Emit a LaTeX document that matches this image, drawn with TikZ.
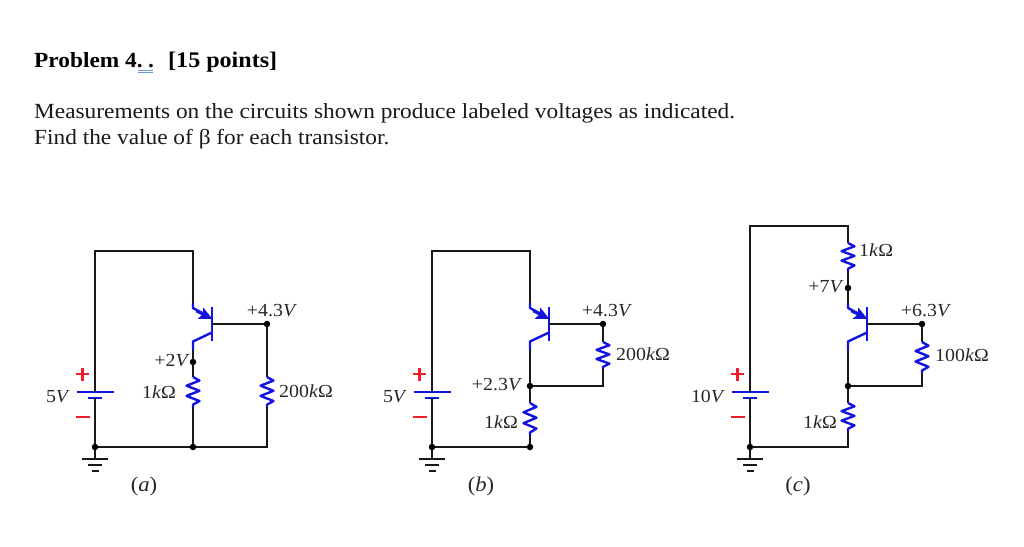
\documentclass[tikz,border=0pt]{standalone}
\usepackage{fontspec}
\setmainfont[FakeStretch=1.08]{Liberation Serif}
\usetikzlibrary{calc,arrows.meta}
\definecolor{wireblue}{RGB}{20,20,225}
\definecolor{linkblue}{RGB}{110,150,205}
\definecolor{markred}{RGB}{240,30,40}
\tikzset{
  wire/.style={draw=black!90,line width=2.4pt,line join=miter},
  part/.style={draw=wireblue,line width=2.4pt,line join=round},
  junction/.style={circle,fill=black,inner sep=0pt,minimum size=6.5pt},
  lab/.style={font=\fontsize{18.4}{20}\selectfont,inner sep=0pt,text=black!85},
  para/.style={font=\fontsize{21.6}{24}\selectfont,anchor=base west,inner sep=0pt,text=black!90},
  heading/.style={font=\fontsize{21.6}{24}\selectfont\bfseries,anchor=base west,inner sep=0pt,text=black},
  sign/.style={draw=markred,line width=2.4pt},
}
% resistor between two named coordinates
\newcommand{\resist}[2]{%
  \draw[part] (#1) -- ($(#1)!.12!(#2)+(6.5,0)$) -- ($(#1)!.29!(#2)+(-6.5,0)$)
    -- ($(#1)!.46!(#2)+(6.5,0)$) -- ($(#1)!.63!(#2)+(-6.5,0)$)
    -- ($(#1)!.80!(#2)+(6.5,0)$) -- ($(#1)!.92!(#2)$) -- (#2);}
% pnp transistor on the rail at x=#2, coordinates named #1e,#1b,#1c
\newcommand{\pnp}[2]{%
  \coordinate (#1e) at (#2,303);
  \coordinate (#1c) at (#2,350);
  \coordinate (#1b) at (#2+19,324);
  \draw[part] (#1e) -- (#2,308) -- ++(10,5.4);
  \draw[part,-{Stealth[length=13pt,width=12pt,inset=2pt]}] (#2+3,311) -- (#2+19.5,319);
  \draw[part] (#2+19,307) -- (#2+19,341);
  \draw[part] (#2+19,332.5) -- (#2,341.5) -- (#1c);
  \draw[part] (#1b) -- ++(5,0);}
% battery with ground; wire at x=#2; coordinates #1p (long plate) #1n (short plate) #1g (ground)
\newcommand{\batgnd}[2]{%
  \coordinate (#1p) at (#2,392);
  \coordinate (#1n) at (#2,398);
  \draw[part] (#2-18.5,392) -- (#2+19,392);
  \draw[part] (#2-7,398) -- (#2+7,398);
  \draw[sign] (#2-19,374) -- (#2-6,374) (#2-12.5,367.5) -- (#2-12.5,380.5);
  \draw[sign] (#2-19.5,417) -- (#2-5.5,417);
  \coordinate (#1g) at (#2,459);
  \draw[wire] (#2-13,459) -- (#2+13,459) (#2-7,465) -- (#2+7,465) (#2-3.5,471) -- (#2+3.5,471);}
\begin{document}
\begin{tikzpicture}[x=1pt,y=-1pt]
\useasboundingbox (0,0) rectangle (1024,546);
% heading
\node[heading] (title) at (34,67) {Problem 4.};
\node[heading] (dot) at (148,67) {.};
\coordinate (ulL) at (138,70);
\coordinate (ulR) at (153,70);
\draw[linkblue,line width=1pt] (ulL) -- (ulR) ($(ulL)+(0,2.5)$) -- ($(ulR)+(0,2.5)$);
\node[heading,font=\fontsize{22.3}{24}\selectfont\bfseries] (points) at (168,67) {[15 points]};
\node[para] (line1) at (34,118) {Measurements on the circuits shown produce labeled voltages as indicated.};
\node[para] (line2) at (34,144) {Find the value of β for each transistor.};

% ---------- (a)
\pnp{a}{193}
\batgnd{a}{95}
\coordinate (atl) at (95,251);
\coordinate (atr) at (193,251);
\node[junction] (av) at (193,362) {};
\coordinate (ar1t) at (193,377);
\coordinate (ar1b) at (193,407);
\node[junction] (abm) at (193,447) {};
\node[junction] (abl) at (95,447) {};
\coordinate (abr) at (267,447);
\node[junction] (avb) at (267,324) {};
\coordinate (ar2t) at (267,377);
\coordinate (ar2b) at (267,407);
\draw[wire] (ap) -- (atl) -- (atr) -- (ae);
\draw[wire] (ac) -- (av) -- (ar1t);
\draw[wire] (ar1b) -- (abm);
\draw[wire] (an) -- (abl) -- (ag);
\draw[wire] (abl) -- (abm) -- (abr) -- (ar2b);
\draw[wire] (ar2t) -- (avb) -- (ab);
\resist{ar1t}{ar1b}
\resist{ar2t}{ar2b}
\node[lab] (a5) at (58,397) {5\textit{V}};
\node[lab] (a2v) at (172,361) {+2\textit{V}};
\node[lab] (a1k) at (159,392) {1\textit{k}Ω};
\node[lab,anchor=west] (a200) at (279,391) {200\textit{k}Ω};
\node[lab] (a43) at (272,311) {+4.3\textit{V}};
\node[lab,font=\fontsize{21}{24}\selectfont] (acap) at (144,486) {(\textit{a})};

% ---------- (b)
\pnp{b}{530}
\batgnd{b}{432}
\coordinate (btl) at (432,251);
\coordinate (btr) at (530,251);
\node[junction] (bv) at (530,386) {};
\coordinate (br1t) at (530,403);
\coordinate (br1b) at (530,435);
\node[junction] (bbr) at (530,447) {};
\node[junction] (bbl) at (432,447) {};
\node[junction] (bvb) at (603,324) {};
\coordinate (br2t) at (603,342);
\coordinate (br2b) at (603,369);
\coordinate (bvr) at (603,386);
\draw[wire] (bp) -- (btl) -- (btr) -- (be);
\draw[wire] (bc) -- (bv) -- (br1t);
\draw[wire] (br1b) -- (bbr) -- (bbl);
\draw[wire] (bn) -- (bbl) -- (bg);
\draw[wire] (bb) -- (bvb) -- (br2t);
\draw[wire] (br2b) -- (bvr) -- (bv);
\resist{br1t}{br1b}
\resist{br2t}{br2b}
\node[lab] (b5) at (395,397) {5\textit{V}};
\node[lab] (b23) at (497,385) {+2.3\textit{V}};
\node[lab] (b1k) at (501,422) {1\textit{k}Ω};
\node[lab,anchor=west] (b200) at (616,354) {200\textit{k}Ω};
\node[lab] (b43) at (607,311) {+4.3\textit{V}};
\node[lab,font=\fontsize{21}{24}\selectfont] (bcap) at (481,486) {(\textit{b})};

% ---------- (c)
\pnp{c}{848}
\batgnd{c}{750}
\coordinate (ctl) at (750,226);
\coordinate (ctr) at (848,226);
\coordinate (cr0t) at (848,243);
\coordinate (cr0b) at (848,271);
\node[junction] (cv) at (848,288) {};
\node[junction] (cm) at (848,386) {};
\coordinate (cr1t) at (848,403);
\coordinate (cr1b) at (848,431);
\coordinate (cbr) at (848,447);
\node[junction] (cbl) at (750,447) {};
\node[junction] (cvb) at (922,324) {};
\coordinate (cr2t) at (922,342);
\coordinate (cr2b) at (922,373);
\coordinate (cmr) at (922,386);
\draw[wire] (cp) -- (ctl) -- (ctr) -- (cr0t);
\draw[wire] (cr0b) -- (cv) -- (ce);
\draw[wire] (cc) -- (cm) -- (cr1t);
\draw[wire] (cr1b) -- (cbr) -- (cbl);
\draw[wire] (cn) -- (cbl) -- (cg);
\draw[wire] (cb) -- (cvb) -- (cr2t);
\draw[wire] (cr2b) -- (cmr) -- (cm);
\resist{cr0t}{cr0b}
\resist{cr1t}{cr1b}
\resist{cr2t}{cr2b}
\node[lab] (c10) at (708,397) {10\textit{V}};
\node[lab,anchor=west] (c1kt) at (859,250) {1\textit{k}Ω};
\node[lab] (c7) at (826,287) {+7\textit{V}};
\node[lab] (c63) at (926,311) {+6.3\textit{V}};
\node[lab,anchor=west] (c100) at (935,355) {100\textit{k}Ω};
\node[lab] (c1kb) at (820,422) {1\textit{k}Ω};
\node[lab,font=\fontsize{21}{24}\selectfont] (ccap) at (798,486) {(\textit{c})};
\end{tikzpicture}
\end{document}
